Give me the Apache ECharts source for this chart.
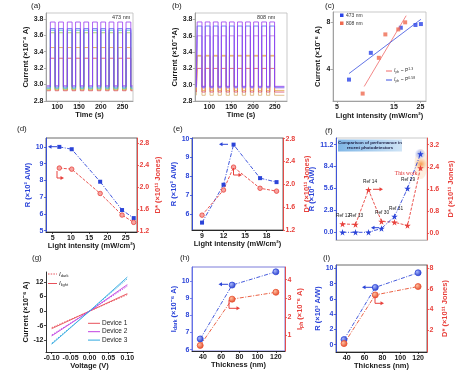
<!DOCTYPE html>
<html>
<head>
<meta charset="utf-8">
<script src="https://cdn.jsdelivr.net/npm/echarts@6/dist/echarts.min.js"></script>
<style>
  html, body { margin: 0; padding: 0; background: #fff; }
  #chart { width: 474px; height: 376px; }
</style>
</head>
<body>
<div id="chart"></div>
<script>
// (a) on/off switching under 473 nm
const aStart = 76, aEnd = 273;
const aOn  = [84, 103, 123, 142, 161, 181, 200, 219, 239, 258];
const aOff = [95, 114, 134, 153, 172, 192, 211, 230, 250, 269];
const aHigh = [3.76, 3.68, 3.66, 3.63, 3.45, 3.32];
const aLow  = [2.985, 2.97, 2.955, 2.945, 2.935, 2.925];
const aColors = ['#9b3df0', '#5060f0', '#40b8e0', '#9ccc50', '#e0a040', '#d84060'];

// (b) on/off switching under 808 nm
const bStart = 70, bEnd = 272;
const bOn  = [72, 90.5, 109, 127.5, 146, 164.5, 183, 201.5, 220, 238.5];
const bOff = [83, 101.5, 120, 138.5, 157, 175.5, 194, 212.5, 231, 249.5];
const bHigh = [3.77, 3.72, 3.6, 3.36, 3.2, 3.35];
const bLow  = [2.98, 2.97, 2.96, 2.93, 2.91, 2.87];
const bColors = ['#9b3df0', '#4f6cf5', '#c070e0', '#e5a54a', '#d64a6a', '#d8b070'];

// (c) photocurrent vs light intensity (log-log)
const cBlueP = [6.3, 9.6, 17.1, 22.7, 25.2];
const cBlueI = [3.45, 5.11, 7.39, 7.69, 7.8];
const cRedP  = [8.2, 11.2, 12.7, 16.3, 18.6];
const cRedI  = [2.81, 4.75, 6.7, 7.21, 8.0];
const cBlueFitP = [6.3, 25.2],  cBlueFitI = [3.77, 8.36];
const cRedFitP  = [8.45, 18.97], cRedFitI = [3.12, 8.82];

// (d) 473 nm responsivity / detectivity
const dP = [6.8, 10.2, 18.0, 24.0, 27.2];
const dR = [10.0, 9.86, 7.92, 6.23, 5.75];
const dD = [2.35, 2.33, 1.885, 1.49, 1.356];

// (e) 808 nm responsivity / detectivity
const eP = [9.0, 12.0, 13.4, 17.1, 19.4];
const eR = [5.56, 7.56, 9.68, 7.91, 7.7];
const eD = [1.46, 1.9, 2.3, 1.93, 1.88];

// (f) comparison with recent photodetectors
const fRefs = ['Ref 12', 'Ref 13', 'Ref 14', 'Ref 30', 'Ref 31', 'Ref 29', 'This work'];
const fR = [0, 0, 0, 0.5, 2.02, 5.6, 10.0];
const fD = [0.34, 0.32, 1.57, 0.43, 0.40, 0.28, 2.36];

// (g) I-V curves
const gV = [-0.1, 0, 0.1];
const gDark  = [[-6.8, 0, 6.8], [-9.8, 0, 10.3], [-13.2, 0, 13.3]];
const gLight = [[-7.2, 0, 7.2], [-10.2, 0, 10.9], [-13.6, 0, 14.0]];
const gNames = ['Device 1', 'Device 2', 'Device 3'];
const gColors = ['#e8505a', '#c040e0', '#30a8e0'];

// (h) dark / photo current vs thickness
const hT = [37, 72, 120];
const hDark = [6.62, 9.75, 10.52];
const hPh = [0.46, 2.95, 3.32];

// (i) R / D* vs thickness
const iT = [37, 72, 120];
const iR = [0.66, 7.5, 9.42];
const iD = [0.71, 5.41, 6.22];

const FONT = 'Liberation Sans, Arial, sans-serif';
const INK = '#1a1a1a', BLUE = '#2b44d8', RED = '#e8413c';
const DASHDOT = [4, 1.5, 1, 1.5], DASH = [3, 1.5];
const STAR = 'path://M50,0 L61,35 L98,35 L68,57 L79,91 L50,70 L21,91 L32,57 L2,35 L39,35 Z';

const grids = [], xAxes = [], yAxes = [], series = [], graphic = [];

function grid(left, top, width, height, border) {
  grids.push({ left, top, width, height, show: !!border, borderColor: border || '#fff', borderWidth: 0.8, backgroundColor: 'transparent' });
  return grids.length - 1;
}

function axis(o) {
  const c = o.color || INK, lc = o.lineColor || c;
  return {
    type: o.type || 'value', gridIndex: o.grid, min: o.min, max: o.max, position: o.pos,
    data: o.data, boundaryGap: o.type === 'category' ? true : undefined,
    name: o.name, nameLocation: 'middle', nameGap: o.gap, nameRotate: o.rot,
    nameTextStyle: { color: c, fontFamily: FONT, fontWeight: 'bold', fontSize: 7.5, rich: o.rich },
    axisLine: { show: true, onZero: false, lineStyle: { color: lc, width: 0.9 } },
    axisTick: { show: !!o.ticks, length: 2, customValues: o.ticks, lineStyle: { color: lc, width: 0.8 } },
    axisLabel: { show: !!o.ticks, customValues: o.ticks, margin: 2.5, color: c, fontFamily: FONT, fontWeight: 'bold', fontSize: 7,
      formatter: o.fn || (v => (+v).toFixed(o.dec || 0)) },
    splitLine: { show: false }
  };
}
function addX(o) { xAxes.push(axis(o)); return xAxes.length - 1; }
function addY(o) { yAxes.push(axis(Object.assign({ rot: 90 }, o))); return yAxes.length - 1; }

function pulses(on, off, hi, lo, x0, x1) {
  const d = [[x0, lo]];
  on.forEach((t, k) => { d.push([t, lo], [t, hi], [off[k], hi], [off[k], lo]); });
  d.push([x1, lo]);
  return d;
}
function zip(xs, ys, fx, fy) {
  return xs.map((v, i) => [fx ? fx(v) : v, fy ? fy(ys[i]) : ys[i]]);
}
function plain(xi, yi, data, color, width, type) {
  return { type: 'line', xAxisIndex: xi, yAxisIndex: yi, data, showSymbol: false, symbol: 'none',
    lineStyle: { color, width: width || 0.8, type: type || 'solid' }, silent: true };
}
function marked(xi, yi, data, color, lineType, symbol, size, fill, z) {
  return { type: 'line', xAxisIndex: xi, yAxisIndex: yi, data, symbol, symbolSize: size, z: z || 2,
    lineStyle: { color, width: 0.9, type: lineType },
    itemStyle: { color: fill || color, borderColor: color, borderWidth: fill ? 0.8 : 0 } };
}
function ball(c1, c2) {
  return new echarts.graphic.RadialGradient(0.35, 0.35, 0.75, [{ offset: 0, color: c1 }, { offset: 1, color: c2 }]);
}

// graphic helpers
function text(x, y, s, size, color, extra) {
  graphic.push({ type: 'text', x, y, z: 100, style: Object.assign({ text: s, fontFamily: FONT, fontSize: size, fill: color || INK,
    textAlign: 'left', textVerticalAlign: 'middle' }, extra || {}) });
}
function hArrow(x1, x2, y, color) {
  const dir = Math.sign(x2 - x1);
  graphic.push({ type: 'line', z: 100, shape: { x1, y1: y, x2: x2 - dir * 2.5, y2: y }, style: { stroke: color, lineWidth: 1 } });
  graphic.push({ type: 'polygon', z: 100, shape: { points: [[x2, y], [x2 - dir * 3.5, y - 2], [x2 - dir * 3.5, y + 2]] }, style: { fill: color } });
}
function elbowArrow(x, y1, y2, x2, color) {
  graphic.push({ type: 'polyline', z: 100, shape: { points: [[x, y1], [x, y2], [x2 - 2.5, y2]] }, style: { stroke: color, lineWidth: 1, fill: null } });
  graphic.push({ type: 'polygon', z: 100, shape: { points: [[x2, y2], [x2 - 3.5, y2 - 2], [x2 - 3.5, y2 + 2]] }, style: { fill: color } });
}
function legendLine(x1, x2, y, color, dash) {
  graphic.push({ type: 'line', z: 100, shape: { x1, y1: y, x2, y2: y }, style: { stroke: color, lineWidth: 1, lineDash: dash || null } });
}

const subRich = { s: { fontSize: 5, fontWeight: 'bold', verticalAlign: 'bottom', padding: [3, 0, 0, 0] } };
const fitRich = { i: { fontSize: 5, fontStyle: 'italic' }, s: { fontSize: 3.5, padding: [3, 0, 0, 0] }, p: { fontSize: 3.5, padding: [0, 0, 3, 0] } };
const legRich = { i: { fontSize: 6, fontStyle: 'italic' }, s: { fontSize: 4, padding: [3, 0, 0, 0] } };

// ---------- (a) ----------
let g = grid(46, 13, 87, 88, '#bbb');
let x = addX({ grid: g, min: 74, max: 274, ticks: [100, 150, 200, 250], name: 'Time (s)', gap: 10, lineColor: '#999' });
let y = addY({ grid: g, min: 2.8, max: 3.87, ticks: [2.8, 3.0, 3.2, 3.4, 3.6, 3.8], dec: 1, name: 'Current (×10⁻⁴ A)', gap: 13, lineColor: '#999' });
for (let k = aHigh.length - 1; k >= 0; k--) series.push(plain(x, y, pulses(aOn, aOff, aHigh[k], aLow[k], aStart, aEnd), aColors[k], 0.8));
text(112, 17, '473 nm', 5.5, '#333');

// ---------- (b) ----------
g = grid(195, 13, 92, 88, '#bbb');
x = addX({ grid: g, min: 67, max: 278, ticks: [100, 150, 200, 250], name: 'Time (s)', gap: 10, lineColor: '#999' });
y = addY({ grid: g, min: 2.8, max: 3.88, ticks: [2.8, 3.0, 3.2, 3.4, 3.6, 3.8], dec: 1, name: 'Current (×10⁻⁴A)', gap: 13, lineColor: '#999' });
for (let k = bHigh.length - 1; k >= 0; k--) series.push(plain(x, y, pulses(bOn, bOff, bHigh[k], bLow[k], bStart, bEnd), bColors[k], 0.8));
text(257, 17, '808 nm', 5.5, '#333');

// ---------- (c) ----------
g = grid(333, 12, 93, 89, '#bbb');
x = addX({ grid: g, min: Math.log(4.63), max: Math.log(27.8), ticks: [5, 15, 25].map(Math.log), fn: v => Math.round(Math.exp(v)),
  name: 'Light intensity (mW/cm²)', gap: 11, lineColor: '#999' });
y = addY({ grid: g, min: Math.log(2.52), max: Math.log(9.31), ticks: [4, 8].map(Math.log), fn: v => Math.round(Math.exp(v)),
  name: 'Current (×10⁻⁶ A)', gap: 11, lineColor: '#999' });
series.push(plain(x, y, zip(cRedFitP, cRedFitI, Math.log, Math.log), '#f06a6a', 0.8));
series.push(plain(x, y, zip(cBlueFitP, cBlueFitI, Math.log, Math.log), '#3a50e0', 0.8));
series.push({ type: 'scatter', xAxisIndex: x, yAxisIndex: y, data: zip(cBlueP, cBlueI, Math.log, Math.log), symbol: 'rect', symbolSize: 4, itemStyle: { color: '#2a44e8' } });
series.push({ type: 'scatter', xAxisIndex: x, yAxisIndex: y, data: zip(cRedP, cRedI, Math.log, Math.log), symbol: 'rect', symbolSize: 4, itemStyle: { color: '#ef6a50' } });
graphic.push({ type: 'rect', z: 100, shape: { x: 340, y: 13.5, width: 3.5, height: 3.5 }, style: { fill: '#2a44e8' } });
graphic.push({ type: 'rect', z: 100, shape: { x: 340, y: 21.5, width: 3.5, height: 3.5 }, style: { fill: '#ef6a50' } });
text(346, 15.5, '473 nm', 5, '#333');
text(346, 23.5, '808 nm', 5, '#333');
legendLine(386, 392, 71, '#f06a6a');
legendLine(386, 392, 80, '#3a50e0');
text(394, 71, '{i|I}{s|ph} ~ P{p|1.3}', 5, '#333', { rich: fitRich });
text(394, 80, '{i|I}{s|ph} ~ P{p|0.58}', 5, '#333', { rich: fitRich });

// ---------- (d) ----------
g = grid(46, 138, 91, 94, '#444');
x = addX({ grid: g, min: 3.15, max: 28.1, ticks: [5, 10, 15, 20, 25], name: 'Light intensity (mW/cm²)', gap: 10 });
y = addY({ grid: g, min: 4.92, max: 10.53, ticks: [5, 6, 7, 8, 9, 10], name: 'R (×10² A/W)', gap: 14, color: BLUE, pos: 'left' });
let y2 = addY({ grid: g, min: 1.18, max: 2.9, ticks: [1.2, 1.6, 2.0, 2.4, 2.8], dec: 1, name: 'D* (×10¹¹ Jones)', gap: 17, color: RED, pos: 'right' });
series.push(marked(x, y, zip(dP, dR), BLUE, DASHDOT, 'rect', 4));
series.push(marked(x, y2, zip(dP, dD), RED, DASH, 'circle', 4.5, '#f6a4a0'));
hArrow(57, 48, 146.7, BLUE);
elbowArrow(57, 171, 178, 64, RED);

// ---------- (e) ----------
g = grid(192, 138, 91, 92, '#444');
x = addX({ grid: g, min: 7.6, max: 20.3, ticks: [9, 12, 15, 18], name: 'Light intensity (mW/cm²)', gap: 10 });
y = addY({ grid: g, min: 5.17, max: 10.03, ticks: [6, 7, 8, 9, 10], name: 'R (×10² A/W)', gap: 14, color: BLUE, pos: 'left' });
y2 = addY({ grid: g, min: 1.2, max: 2.81, ticks: [1.2, 1.6, 2.0, 2.4, 2.8], dec: 1, name: 'D* (×10¹¹ Jones)', gap: 20, color: RED, pos: 'right' });
series.push(marked(x, y, zip(eP, eR), BLUE, DASHDOT, 'rect', 4));
series.push(marked(x, y2, zip(eP, eD), RED, DASH, 'circle', 4.5, '#f6a4a0'));
hArrow(228, 219, 144.3, BLUE);
elbowArrow(233.5, 168, 175, 242, RED);

// ---------- (f) ----------
g = grid(336, 138, 91, 102, '#bbb');
x = addX({ grid: g, type: 'category', data: fRefs, lineColor: '#bbb' });
y = addY({ grid: g, min: -0.98, max: 12.04, ticks: [0, 2.8, 5.6, 8.4, 11.2], dec: 1, name: 'R (×10² A/W)', gap: 13, color: BLUE, pos: 'left' });
y2 = addY({ grid: g, min: -0.24, max: 3.44, ticks: [0, 0.8, 1.6, 2.4, 3.2], dec: 1, name: 'D* (×10¹¹ Jones)', gap: 20, color: RED, pos: 'right' });
graphic.push({ type: 'ellipse', z: 1, shape: { cx: 421, cy: 164, rx: 6.5, ry: 15 },
  style: { fill: new echarts.graphic.RadialGradient(0.5, 0.5, 0.5, [{ offset: 0, color: 'rgba(245,150,70,0.95)' }, { offset: 1, color: 'rgba(250,190,130,0.25)' }]) } });
graphic.push({ type: 'circle', z: 1, shape: { cx: 420, cy: 154, r: 5 },
  style: { fill: new echarts.graphic.RadialGradient(0.5, 0.5, 0.5, [{ offset: 0, color: 'rgba(120,150,240,0.9)' }, { offset: 1, color: 'rgba(170,190,250,0.2)' }]) } });
series.push(marked(x, y2, fD, RED, DASH, STAR, 6.5, null, 3));
series.push(marked(x, y, fR, BLUE, DASHDOT, STAR, 6.5, null, 4));
graphic.push({ type: 'rect', z: 90, shape: { x: 338, y: 139.5, width: 64, height: 12 },
  style: { fill: new echarts.graphic.LinearGradient(0, 0, 1, 0, [{ offset: 0, color: '#7fb6e6' }, { offset: 1, color: '#cfe4f6' }]) } });
text(370, 142.8, 'Comparison of performance in', 4.4, '#1a1a40', { textAlign: 'center', fontWeight: 'bold' });
text(370, 148.2, 'recent photodetectors', 4.4, '#1a1a40', { textAlign: 'center', fontWeight: 'bold' });
text(343, 216, 'Ref 12', 4.8, INK, { textAlign: 'center' });
text(356, 216, 'Ref 13', 4.8, INK, { textAlign: 'center' });
text(370, 181.7, 'Ref 14', 4.8, INK, { textAlign: 'center' });
text(382, 212.7, 'Ref 30', 4.8, INK, { textAlign: 'center' });
text(396, 208.3, 'Ref 31', 4.8, INK, { textAlign: 'center' });
text(408, 180, 'Ref 29', 4.8, INK, { textAlign: 'center' });
text(406, 173.5, 'This work', 5.5, '#e03030', { textAlign: 'center', fontFamily: 'Liberation Serif, serif' });
hArrow(373, 383, 189.3, RED);
hArrow(379, 371, 227.7, BLUE);

// ---------- (g) ----------
g = grid(46, 272, 87, 80, null);
x = addX({ grid: g, min: -0.115, max: 0.115, ticks: [-0.1, -0.05, 0, 0.05, 0.1], dec: 2, name: 'Voltage (V)', gap: 10 });
y = addY({ grid: g, min: -16.8, max: 16.1, ticks: [-12, -6, 0, 6, 12], name: 'Current (×10⁻⁶ A)', gap: 14 });
gNames.forEach((n, k) => {
  series.push(plain(x, y, zip(gV, gDark[k]), gColors[k], 0.9, [1.5, 1.2]));
  series.push(plain(x, y, zip(gV, gLight[k]), gColors[k], 0.9));
  legendLine(88, 100, 323.3 + k * 8.4, gColors[k]);
  text(102, 323.3 + k * 8.4, n, 6.5, '#222');
});
legendLine(48, 57, 274, '#e8505a', [1.5, 1.2]);
legendLine(48, 57, 283.5, '#e8505a');
text(59, 274, '{i|I}{s|dark}', 6, '#222', { rich: legRich });
text(59, 283.5, '{i|I}{s|light}', 6, '#222', { rich: legRich });

// ---------- (h) ----------
g = grid(192, 267, 93, 84, '#5a5ad0');
x = addX({ grid: g, min: 28, max: 130, ticks: [40, 60, 80, 100, 120], name: 'Thickness (nm)', gap: 10 });
y = addY({ grid: g, min: 5.92, max: 10.8, ticks: [6, 7, 8, 9, 10], name: 'I{s|dark} (×10⁻⁶ A)', gap: 11, color: BLUE, lineColor: '#5a6ae8', pos: 'left', rich: subRich });
y2 = addY({ grid: g, min: 0.16, max: 4.68, ticks: [1, 2, 3, 4], name: 'I{s|ph} (×10⁻⁶ A)', gap: 11, color: RED, pos: 'right', rich: subRich });
series.push(marked(x, y, zip(hT, hDark), '#3048d8', DASHDOT, 'circle', 6, ball('#a8b8ff', '#1a2fc0')));
series.push(marked(x, y2, zip(hT, hPh), '#e85030', DASHDOT, 'circle', 6, ball('#ffc0a0', '#e04020')));
hArrow(228, 218.5, 284.3, BLUE);
elbowArrow(229, 300, 308.3, 240, RED);

// ---------- (i) ----------
g = grid(336, 265, 91, 87, '#444');
x = addX({ grid: g, min: 28, max: 130, ticks: [40, 60, 80, 100, 120], name: 'Thickness (nm)', gap: 10 });
y = addY({ grid: g, min: -0.97, max: 10.44, ticks: [0, 2, 4, 6, 8, 10], name: 'R (×10³ A/W)', gap: 9, color: BLUE, pos: 'left' });
y2 = addY({ grid: g, min: -0.1, max: 8.3, ticks: [2, 4, 6, 8], name: 'D* (×10¹¹ Jones)', gap: 14, color: RED, pos: 'right' });
series.push(marked(x, y, zip(iT, iR), '#3048d8', DASHDOT, 'circle', 6, ball('#a8b8ff', '#1a2fc0')));
series.push(marked(x, y2, zip(iT, iD), '#e85030', DASHDOT, 'circle', 6, ball('#ffc0a0', '#e04020')));
hArrow(373, 362, 287.3, BLUE);
elbowArrow(375, 296.7, 303.3, 384, RED);

// panel letters
[['(a)', 31, 6], ['(b)', 172, 6], ['(c)', 325, 6], ['(d)', 17, 129], ['(e)', 173, 129], ['(f)', 325, 131],
 ['(g)', 32, 258], ['(h)', 180, 258], ['(i)', 323, 258]].forEach(p => text(p[1], p[2], p[0], 8, '#222'));

const chart = echarts.init(document.getElementById('chart'), null, { renderer: 'canvas' });
chart.setOption({
  animation: false,
  backgroundColor: '#fff',
  grid: grids,
  xAxis: xAxes,
  yAxis: yAxes,
  series: series,
  graphic: graphic
});
</script>
</body>
</html>
